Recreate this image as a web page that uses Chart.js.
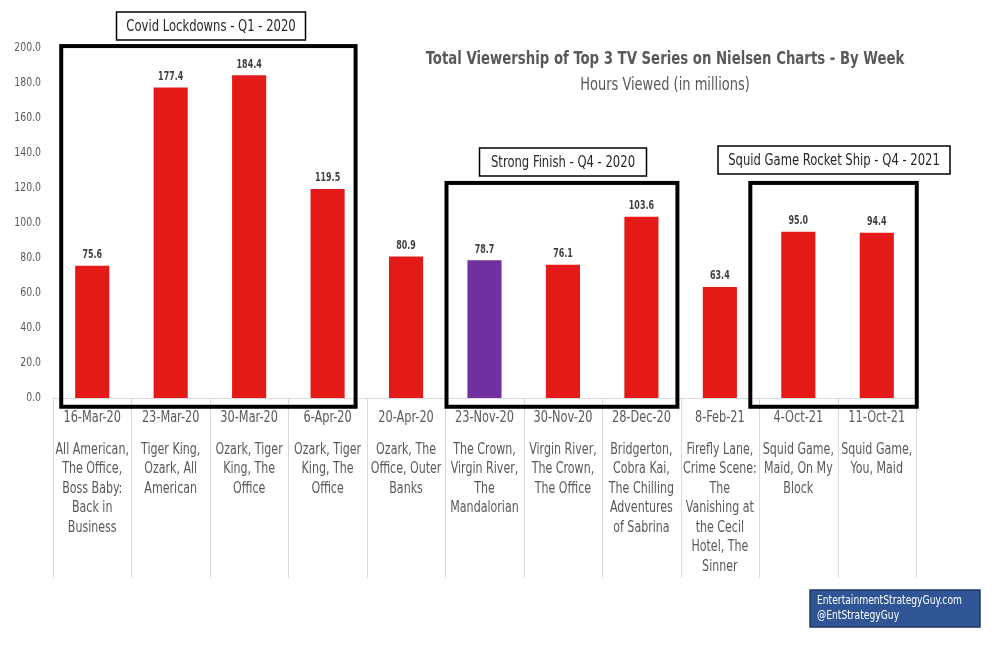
<!DOCTYPE html>
<html lang="en">
<head>
<meta charset="UTF-8" />
<title>Top 3 TV Series on Nielsen Charts</title>
<script src="https://cdn.jsdelivr.net/npm/chart.js@4.4.1/dist/chart.umd.min.js"></script>
<style>
  body { margin: 0; background: #fff; }
</style>
</head>
<body>
<canvas id="chart" width="996" height="655"></canvas>
<script>
// weeks on the category axis
const weeks = ['16-Mar-20', '23-Mar-20', '30-Mar-20', '6-Apr-20', '20-Apr-20', '23-Nov-20',
               '30-Nov-20', '28-Dec-20', '8-Feb-21', '4-Oct-21', '11-Oct-21'];
// top 3 shows for each week (already wrapped like the original)
const shows = [
  ['All American,', 'The Office,', 'Boss Baby:', 'Back in', 'Business'],
  ['Tiger King,', 'Ozark, All', 'American'],
  ['Ozark, Tiger', 'King, The', 'Office'],
  ['Ozark, Tiger', 'King, The', 'Office'],
  ['Ozark, The', 'Office, Outer', 'Banks'],
  ['The Crown,', 'Virgin River,', 'The', 'Mandalorian'],
  ['Virgin River,', 'The Crown,', 'The Office'],
  ['Bridgerton,', 'Cobra Kai,', 'The Chilling', 'Adventures', 'of Sabrina'],
  ['Firefly Lane,', 'Crime Scene:', 'The', 'Vanishing at', 'the Cecil', 'Hotel, The', 'Sinner'],
  ['Squid Game,', 'Maid, On My', 'Block'],
  ['Squid Game,', 'You, Maid']
];
// hours viewed, millions
const hours = [75.6, 177.4, 184.4, 119.5, 80.9, 78.7, 76.1, 103.6, 63.4, 95.0, 94.4];
const highlightWeek = '23-Nov-20';

// annotation groups: caption + first/last week index
const groupNames = ['Covid Lockdowns - Q1 - 2020', 'Strong Finish - Q4 - 2020', 'Squid Game Rocket Ship - Q4 - 2021'];
const groupFirst = [0, 5, 9];
const groupLast = [3, 7, 10];

const yTicks = [0, 20, 40, 60, 80, 100, 120, 140, 160, 180, 200];

// box / caption placement (pixels relative to bar centres)
const boxGeom = [
  { l: 31, r: 28, top: 201.1, cap: [211, 26, 189, 28] },
  { l: 38, r: 36, top: 122.9, cap: [563, 162, 167, 28] },
  { l: 48, r: 40, top: 122.9, cap: [834, 160, 232, 28] }
];

const FONT = "'DejaVu Sans Condensed', 'Roboto', sans-serif";
const GREY = '#595959';

// the original uses a narrow face, so squeeze text horizontally
function txt(ctx, s, x, y, k) {
  const w = ctx.measureText(s).width;
  ctx.fillText(s, x, y, w * k);
}

const overlay = {
  id: 'overlay',
  afterDatasetsDraw(chart) {
    const ctx = chart.ctx;
    const x = chart.scales.x, y = chart.scales.y;
    const y0 = y.getPixelForValue(0);
    const half = (x.getPixelForValue(1) - x.getPixelForValue(0)) / 2;
    ctx.save();
    ctx.textBaseline = 'middle';

    // y tick labels
    ctx.font = '13px ' + FONT;
    ctx.fillStyle = GREY;
    ctx.textAlign = 'right';
    yTicks.forEach(v => txt(ctx, v.toFixed(1), 41, y.getPixelForValue(v), 0.8));

    // value labels
    ctx.font = 'bold 13px ' + FONT;
    ctx.fillStyle = '#404040';
    ctx.textAlign = 'center';
    hours.forEach((v, i) => {
      txt(ctx, v.toFixed(1), x.getPixelForValue(i), y.getPixelForValue(v) - 11, 0.68);
    });

    // axis line and category dividers
    ctx.strokeStyle = '#d9d9d9';
    ctx.lineWidth = 1;
    ctx.beginPath();
    ctx.moveTo(x.left, y0 + 0.5);
    ctx.lineTo(x.right, y0 + 0.5);
    for (let i = 0; i <= weeks.length; i++) {
      const px = Math.round(x.getPixelForValue(i) - half) + 0.5;
      ctx.moveTo(px, y0);
      ctx.lineTo(px, 578);
    }
    ctx.stroke();

    // category labels (date + shows)
    ctx.fillStyle = GREY;
    ctx.font = '15px ' + FONT;
    weeks.forEach((w, i) => {
      const cx = x.getPixelForValue(i);
      txt(ctx, w, cx, y0 + 20, 0.84);
      shows[i].forEach((s, j) => txt(ctx, s, cx, y0 + 52 + j * 19.5, 0.82));
    });

    // group boxes
    groupNames.forEach((name, g) => {
      const b = boxGeom[g];
      const left = x.getPixelForValue(groupFirst[g]) - b.l;
      const right = x.getPixelForValue(groupLast[g]) + b.r;
      const top = y.getPixelForValue(b.top);
      const bottom = y.getPixelForValue(-5);
      ctx.strokeStyle = '#000';
      ctx.lineWidth = 4;
      ctx.strokeRect(left, top, right - left, bottom - top);

      const [cx, cy, cw, ch] = b.cap;
      ctx.fillStyle = '#fff';
      ctx.fillRect(cx - cw / 2, cy - ch / 2, cw, ch);
      ctx.lineWidth = 1.5;
      ctx.strokeRect(cx - cw / 2, cy - ch / 2, cw, ch);
      ctx.fillStyle = '#262626';
      ctx.font = '15px ' + FONT;
      txt(ctx, name, cx, cy + 1, 0.86);
    });

    // title
    ctx.fillStyle = GREY;
    ctx.font = 'bold 18px ' + FONT;
    txt(ctx, 'Total Viewership of Top 3 TV Series on Nielsen Charts - By Week', 665, 59, 0.82);
    ctx.font = '17px ' + FONT;
    txt(ctx, 'Hours Viewed (in millions)', 665, 86, 0.85);

    // credit box
    ctx.fillStyle = '#2f5597';
    ctx.fillRect(810, 590, 170, 37);
    ctx.strokeStyle = '#1f3864';
    ctx.lineWidth = 1.5;
    ctx.strokeRect(810, 590, 170, 37);
    ctx.fillStyle = '#fff';
    ctx.textAlign = 'left';
    ctx.font = '12px ' + FONT;
    txt(ctx, 'EntertainmentStrategyGuy.com', 817, 601, 0.85);
    txt(ctx, '@EntStrategyGuy', 817, 616, 0.85);

    ctx.restore();
  }
};

new Chart(document.getElementById('chart'), {
  type: 'bar',
  data: {
    labels: weeks,
    datasets: [{
      data: hours,
      backgroundColor: ctx => weeks[ctx.dataIndex] === highlightWeek ? '#7030a0' : '#e31a17',
      categoryPercentage: 1,
      barPercentage: 0.435
    }]
  },
  options: {
    responsive: false,
    animation: false,
    layout: { padding: { top: 48, right: 80, bottom: 257, left: 53 } },
    plugins: { legend: { display: false }, tooltip: { enabled: false } },
    scales: {
      x: {
        display: true,
        grid: { display: false, drawTicks: false },
        border: { display: false },
        ticks: { display: false }
      },
      y: {
        display: false,
        min: 0,
        max: 200,
        afterBuildTicks: s => { s.ticks = yTicks.map(v => ({ value: v })); }
      }
    }
  },
  plugins: [overlay]
});
</script>
</body>
</html>
